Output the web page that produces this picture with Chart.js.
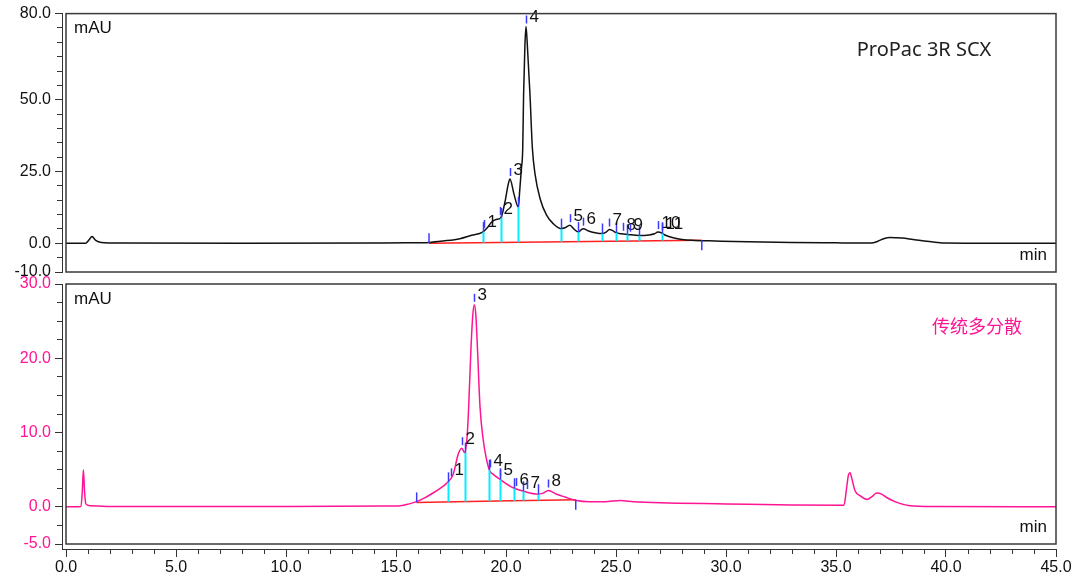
<!DOCTYPE html>
<html>
<head>
<meta charset="utf-8">
<script src="https://cdn.jsdelivr.net/npm/chart.js@4.4.1/dist/chart.umd.min.js"></script>
<style>
  html, body { margin: 0; padding: 0; background: #fff; }
  #wrap { position: relative; width: 1080px; height: 585px; }
  canvas { position: absolute; left: 0; top: 0; }
</style>
</head>
<body>
<div id="wrap">
  <canvas id="top" width="1080" height="585"></canvas>
  <canvas id="bottom" width="1080" height="585"></canvas>
</div>
<script>

// ProPac 3R SCX (trace noire)
const scxTrace = [
  [0, 0.05], [0.9, 0.05], [1.05, 1.2], [1.18, 2.4], [1.35, 1.0], [1.6, 0.3], [2.5, 0.1],
  [8, 0.05], [14, 0.1], [15.5, 0.15], [16.5, 0.3], [17.15, 0.8], [17.9, 1.6], [18.44, 2.8],
  [18.94, 3.9], [19.15, 5.4], [19.35, 7.4], [19.55, 8.3], [19.76, 8.8], [19.95, 14.3],
  [20.1, 20.5], [20.18, 22.4], [20.36, 17.2], [20.56, 12.6], [20.62, 18], [20.7, 26],
  [20.76, 33], [20.8, 51.8], [20.86, 69], [20.91, 75.5], [20.97, 69], [21.09, 51.8],
  [21.2, 33], [21.32, 24.1], [21.55, 15.5], [21.85, 9.7], [22.15, 6.8], [22.49, 5.1],
  [22.68, 5.4], [22.9, 6.3], [23.1, 4.9], [23.29, 3.9], [23.4, 4.6], [23.51, 5.1],
  [23.75, 4.3], [24.05, 3.7], [24.38, 3.4], [24.55, 3.9], [24.7, 4.8], [24.85, 4.4],
  [25.0, 3.7], [25.25, 3.3], [25.51, 3.1], [26.05, 2.7], [26.5, 2.9], [26.75, 3.3],
  [26.9, 3.9], [27.1, 3.5], [27.25, 2.8], [27.6, 1.9], [28.0, 1.3], [28.6, 1.0],
  [29.5, 0.8], [31, 0.5], [33, 0.25], [35, 0.15], [36.6, 0.1], [36.9, 0.7], [37.2, 1.7],
  [37.45, 2.0], [38, 1.8], [38.5, 1.3], [39, 0.8], [39.5, 0.4], [40, 0.1], [42, 0], [45, 0]
];
const scxBaseline = [[16.5, 0], [28.9, 1.1]];
const scxDrops = [[18.94, 3.9], [19.76, 8.8], [20.56, 12.6], [22.49, 5.1], [23.29, 3.9],
  [24.38, 3.4], [25.0, 3.7], [25.51, 3.1], [26.05, 2.7], [27.1, 3.5]];
const scxPeaks = [[19.0, 4.3], [19.72, 8.8], [20.18, 22.4], [20.91, 75.5], [22.9, 6.3],
  [23.51, 5.1], [24.7, 4.8], [25.33, 3.3], [25.64, 3.0], [26.9, 3.9], [27.1, 3.5]];

// 传统多分散 (trace rose)
const polyTrace = [
  [0, 0], [0.68, 0.05], [0.74, 2.0], [0.79, 5.0], [0.84, 2.2], [0.9, 0.4], [1.1, 0.15],
  [2, 0.05], [10, 0.05], [14.5, 0.1], [15.2, 0.15], [15.6, 0.4], [15.94, 0.7], [16.3, 1.2],
  [16.7, 1.9], [17.15, 2.8], [17.35, 3.3], [17.6, 4.4], [17.83, 7.1], [17.99, 7.9],
  [18.12, 7.3], [18.22, 9.0], [18.29, 12.5], [18.41, 21.5], [18.49, 25.8], [18.56, 27.2],
  [18.63, 25.8], [18.7, 21.5], [18.82, 13.4], [18.97, 8.9], [19.1, 6.6], [19.24, 5.0],
  [19.45, 4.3], [19.73, 3.7], [20.18, 2.8], [20.38, 2.5], [20.79, 2.1], [21.44, 1.7],
  [21.7, 1.85], [21.92, 2.2], [22.3, 1.7], [22.7, 1.3], [23.14, 0.9], [23.8, 0.7],
  [24.5, 0.7], [25.2, 0.85], [25.8, 0.7], [27, 0.55], [30, 0.4], [33, 0.25], [35.36, 0.2],
  [35.48, 2.5], [35.56, 4.2], [35.64, 4.6], [35.72, 3.8], [35.86, 2.2], [36.09, 1.5],
  [36.42, 1.0], [36.6, 1.3], [36.85, 1.85], [37.05, 1.75], [37.3, 1.26], [37.76, 0.6],
  [38.36, 0.15], [39.5, 0.05], [45, 0]
];
const polyBaseline = [[15.94, 0.6], [23.17, 0.95]];
const polyDrops = [[17.35, 3.3], [18.12, 7.3], [19.24, 5.0], [19.73, 3.7], [20.38, 2.5],
  [20.79, 2.1], [21.44, 1.7]];
const polyPeaks = [[17.5, 3.7], [17.99, 7.9], [18.56, 27.2], [19.27, 4.9], [19.73, 3.7],
  [20.45, 2.4], [20.95, 2.0], [21.92, 2.2]];

// graduations
const timeRange = [0, 45];
const scxAxis = { min: -10, max: 80, step: 5, labels: [80, 50, 25, 0, -10] };
const polyAxis = { min: -5, max: 30, step: 2.5, labels: [30, 20, 10, 0, -5] };

const PINK = '#ff1493';
const BLUE = '#3a3aff';
const CYAN = '#00eeff';
const AXIS = '#333';
const PX_PER_MIN = 22;
const GAP = 4; // écart entre l'axe Y et le cadre

Chart.defaults.font.family = '"Liberation Sans", Arial, sans-serif';
Chart.defaults.font.size = 16;
Chart.defaults.color = '#111';

const toXY = arr => arr.map(([x, y]) => ({ x, y }));
const isLabel = (list, v) => list.some(l => Math.abs(l - v) < 1e-6);

// annotations de pics, cadre et textes
const chromPlugin = {
  id: 'chrom',
  afterDatasetsDraw(chart, args, o) {
    const { ctx, chartArea: a, scales: { x, y } } = chart;
    const px = t => x.getPixelForValue(t);
    const py = v => y.getPixelForValue(v);
    const seg = (x1, y1, x2, y2, c, w) => {
      ctx.beginPath(); ctx.strokeStyle = c; ctx.lineWidth = w;
      ctx.moveTo(x1, y1); ctx.lineTo(x2, y2); ctx.stroke();
    };
    ctx.save();

    const [b0, b1] = o.base;
    const baseAt = t => b0[1] + (b1[1] - b0[1]) * (t - b0[0]) / (b1[0] - b0[0]);

    for (const [t, v] of o.drops) {
      const xx = Math.round(px(t)) + 0.5;
      seg(xx, py(baseAt(t)), xx, py(v), CYAN, 2);
      seg(xx, py(v), xx, py(v) - 10, BLUE, 1.5);
    }
    seg(px(b0[0]), py(b0[1]), px(b0[0]), py(b0[1]) - 10, BLUE, 1.5);
    seg(px(b1[0]), py(b1[1]), px(b1[0]), py(b1[1]) + 10, BLUE, 1.5);

    ctx.font = '17px "Liberation Sans", Arial';
    ctx.textBaseline = 'middle';
    ctx.textAlign = 'left';
    ctx.fillStyle = '#111';
    o.peaks.forEach(([t, v], i) => {
      const xx = Math.round(px(t)) + 0.5, yy = py(v) - 3;
      seg(xx, yy, xx, yy - 8, BLUE, 1.5);
      ctx.fillText(String(i + 1), xx + 3, yy - 6);
    });

    // cadre
    const left = px(timeRange[0]), bottom = py(o.floor);
    ctx.strokeStyle = '#3a3a3a';
    ctx.lineWidth = 1.5;
    ctx.strokeRect(left, a.top, a.right - left, bottom - a.top);

    ctx.font = '17px "Liberation Sans", Arial';
    ctx.fillStyle = '#111';
    ctx.textAlign = 'left';
    ctx.fillText('mAU', left + 8, a.top + 15);
    ctx.textAlign = 'right';
    ctx.fillText('min', a.right - 9, bottom - 17);

    ctx.textAlign = 'center';
    ctx.font = o.titleFont;
    ctx.fillStyle = o.titleColor;
    ctx.fillText(o.title, a.right - o.titleDx, a.top + o.titleDy);
    ctx.restore();
  }
};

function yScale(ax, color) {
  return {
    type: 'linear',
    min: ax.min - (ax === polyAxis ? 5 / 7.43 : 0),
    max: ax.max,
    afterFit(s) { s.width = 62; },
    afterBuildTicks(s) { s.ticks = s.ticks.filter(t => t.value >= ax.min - 1e-9); },
    border: { display: true, color: AXIS, width: 1 },
    grid: {
      drawOnChartArea: false, drawTicks: true, tickLength: 7, tickColor: AXIS, tickWidth: 1,
      tickBorderDash: c => (c.tick && isLabel(ax.labels, c.tick.value)) ? [] : [0, 2, 5, 100]
    },
    ticks: {
      stepSize: ax.step, includeBounds: false, autoSkip: false, padding: 4, color,
      font: { size: 16 },
      callback: v => isLabel(ax.labels, v) ? v.toFixed(1) : ''
    }
  };
}

const xMin = timeRange[0] - GAP / PX_PER_MIN;

new Chart(document.getElementById('top'), {
  type: 'line',
  data: {
    datasets: [
      { data: toXY(scxTrace), borderColor: '#111', borderWidth: 1.5 },
      { data: toXY(scxBaseline), borderColor: '#ff2020', borderWidth: 1.5, tension: 0 }
    ]
  },
  options: {
    responsive: false, animation: false, devicePixelRatio: 1,
    layout: { padding: { top: 12, right: 24, bottom: 313, left: 0 } },
    elements: { point: { radius: 0 }, line: { cubicInterpolationMode: 'monotone' } },
    plugins: {
      legend: { display: false }, tooltip: { enabled: false },
      chrom: {
        base: scxBaseline, drops: scxDrops, peaks: scxPeaks, floor: scxAxis.min,
        title: 'ProPac 3R SCX', titleFont: '20px "Noto Sans", sans-serif', titleColor: '#222',
        titleDx: 132, titleDy: 37
      }
    },
    scales: {
      x: { type: 'linear', min: xMin, max: timeRange[1], display: false },
      y: yScale(scxAxis, '#111')
    }
  },
  plugins: [chromPlugin]
});

new Chart(document.getElementById('bottom'), {
  type: 'line',
  data: {
    datasets: [
      { data: toXY(polyTrace), borderColor: PINK, borderWidth: 1.5 },
      { data: toXY(polyBaseline), borderColor: '#ff2020', borderWidth: 1.5, tension: 0 }
    ]
  },
  options: {
    responsive: false, animation: false, devicePixelRatio: 1,
    layout: { padding: { top: 284, right: 24, bottom: 6, left: 0 } },
    elements: { point: { radius: 0 }, line: { cubicInterpolationMode: 'monotone' } },
    plugins: {
      legend: { display: false }, tooltip: { enabled: false },
      chrom: {
        base: polyBaseline, drops: polyDrops, peaks: polyPeaks, floor: polyAxis.min,
        title: '传统多分散', titleFont: '18px "Noto Sans CJK SC", sans-serif', titleColor: PINK,
        titleDx: 79, titleDy: 42
      }
    },
    scales: {
      x: {
        type: 'linear', min: xMin, max: timeRange[1],
        afterFit(s) { s.height = 30; },
        afterBuildTicks(s) { s.ticks = s.ticks.filter(t => t.value >= timeRange[0] - 1e-9); },
        border: { display: true, color: AXIS, width: 1 },
        grid: {
          drawOnChartArea: false, drawTicks: true, tickLength: 8, tickColor: AXIS, tickWidth: 1,
          tickBorderDash: c => (c.tick && c.tick.value % 5 === 0) ? [] : [4, 100]
        },
        ticks: {
          stepSize: 1, includeBounds: false, autoSkip: false, maxRotation: 0, padding: 1,
          color: '#111', font: { size: 16 },
          callback: v => v % 5 === 0 ? v.toFixed(1) : ''
        }
      },
      y: yScale(polyAxis, PINK)
    }
  },
  plugins: [chromPlugin]
});
</script>
</body>
</html>
